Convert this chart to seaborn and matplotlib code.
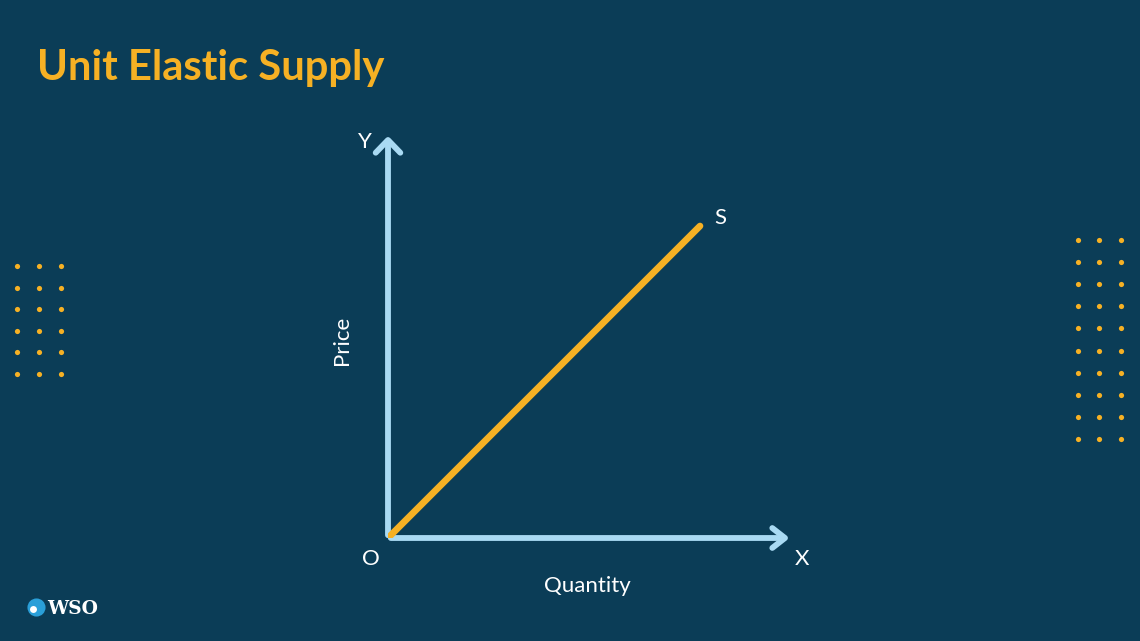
import matplotlib
matplotlib.use("Agg")
import matplotlib.pyplot as plt
import seaborn as sns
import pandas as pd

# Data: unit elastic supply passes through the origin
quantity = [0, 10]
price = [0, 10]
curve_label = "S"
title = "Unit Elastic Supply"
x_label = "Quantity"
y_label = "Price"

BG = "#0b3d57"
ORANGE = "#f6b124"
AXIS_BLUE = "#a9daf3"

sns.set_theme(style="white")
plt.rcParams["font.family"] = ["Lato", "DejaVu Sans"]

fig = plt.figure(figsize=(11.4, 6.41), dpi=100, facecolor=BG)

# background layer for decorations (pixel space)
bg = fig.add_axes([0, 0, 1, 1])
bg.set_xlim(0, 1140)
bg.set_ylim(641, 0)
bg.axis("off")
bg.set_facecolor(BG)

# decorative dot grids
left_x = [17, 39, 61]
left_y = [266, 288, 309, 331, 352, 374]
right_x = [1078, 1099, 1121]
right_y = [240, 262, 284, 306, 328, 351, 373, 395, 417, 439]
dots = [(x, y) for x in left_x for y in left_y] + [(x, y) for x in right_x for y in right_y]
bg.scatter([d[0] for d in dots], [d[1] for d in dots], s=14, color=ORANGE, linewidths=0)

# title
bg.text(37, 80, title, color=ORANGE, fontsize=30.1, fontweight="bold",
        ha="left", va="baseline")

# logo
bg.scatter([36], [607], s=170, color="#2a9fd8", linewidths=0)
bg.scatter([33], [609], s=25, color="white", linewidths=0)
bg.text(47, 614, "WSO", color="white", fontsize=13.5, fontweight="bold",
        family="DejaVu Serif", ha="left", va="baseline")

# main chart axes: origin at pixel (388, 538)
ax = fig.add_axes([388 / 1140, (641 - 538) / 641, (785 - 388) / 1140, (538 - 140) / 641])
ax.patch.set_alpha(0)
ax.set_xlim(0, 397 / 31.2)
ax.set_ylim(0, 398 / 31.2)
ax.axis("off")

df = pd.DataFrame({"Quantity": quantity, "Price": price})
sns.lineplot(data=df, x="Quantity", y="Price", ax=ax, color=ORANGE,
             linewidth=4.8, solid_capstyle="round", zorder=5)

# axis lines
for end in [(1, 0), (0, 1)]:
    ax.annotate("", xy=end, xytext=(0, 0), xycoords="axes fraction",
                textcoords="axes fraction",
                arrowprops=dict(arrowstyle="-", color=AXIS_BLUE, lw=4.2,
                                capstyle="round"), zorder=3)
# arrow heads as chevrons
ax.plot([0.968, 1.0, 0.968], [0.025, 0.0, -0.025], transform=ax.transAxes,
        color=AXIS_BLUE, lw=4.2, solid_capstyle="round", solid_joinstyle="round",
        clip_on=False, zorder=3)
ax.plot([-0.031, 0.0, 0.031], [0.968, 1.0, 0.968], transform=ax.transAxes,
        color=AXIS_BLUE, lw=4.2, solid_capstyle="round", solid_joinstyle="round",
        clip_on=False, zorder=3)

# labels
ax.text(quantity[-1] + 0.65, price[-1] + 0.25, curve_label, color="white", fontsize=16,
        ha="center", va="center")
bg.text(365, 142, "Y", color="white", fontsize=16, ha="center", va="center")
bg.text(802, 559, "X", color="white", fontsize=16, ha="center", va="center")
bg.text(371, 559, "O", color="white", fontsize=16, ha="center", va="center")
bg.text(587, 586, x_label, color="white", fontsize=16, ha="center", va="center")
bg.text(342, 340, y_label, color="white", fontsize=16, ha="center", va="center",
        rotation=90)

fig.savefig("out.png", dpi=100, facecolor=BG)
